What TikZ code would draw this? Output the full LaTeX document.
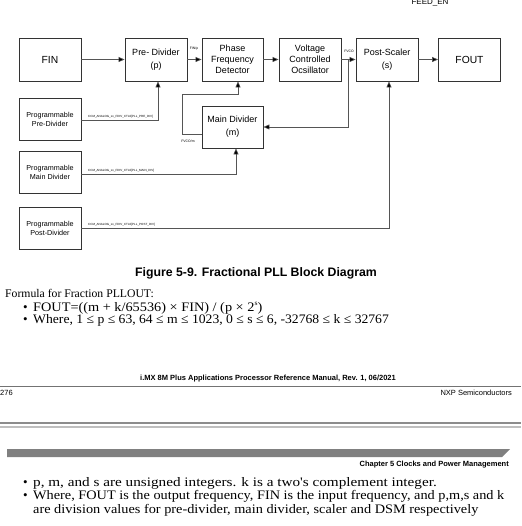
\documentclass[tikz,border=0pt]{standalone}
\usepackage{fontspec}
\usepackage{graphicx}
\setmainfont{Liberation Serif}
\setsansfont{Liberation Sans}
\usetikzlibrary{arrows.meta,calc}
\definecolor{boxline}{HTML}{333333}
\definecolor{wire}{HTML}{555555}
\begin{document}
\begin{tikzpicture}[x=1pt,y=-1pt,
  blk/.style={draw=boxline, line width=0.9pt, minimum width=62pt, minimum height=43pt, align=center, inner sep=1pt, font=\sffamily\fontsize{9}{11}\selectfont},
  bigblk/.style={blk, font=\sffamily\fontsize{10.3}{12}\selectfont},
  progblk/.style={blk, minimum height=42pt, font=\sffamily\fontsize{7.2}{9}\selectfont},
  wireline/.style={draw=wire, line width=0.6pt},
  arr/.style={wireline, -{Triangle[width=5pt,length=6pt,fill=black]}},
  reg/.style={inner sep=0pt, font=\sffamily\fontsize{3}{3.5}\selectfont},
  tiny/.style={inner sep=0pt, font=\sffamily\fontsize{3.4}{4}\selectfont},
  body/.style={inner sep=0pt, anchor=base west, font=\fontsize{13}{15}\selectfont},
  foot/.style={inner sep=0pt, font=\sffamily\fontsize{7.5}{9}\selectfont},
]
\useasboundingbox (0,0) rectangle (521,526);
\fill[white] (0,0) rectangle (521,526);

% top label
\node[foot, anchor=base, font=\sffamily\fontsize{8}{9}\selectfont] (feed) at (430,5) {FEED\_EN};

% blocks
\node[bigblk] (fin) at (50,59.5) {FIN};
\node[blk] (pre) at (156,59.5) {Pre- Divider\\[2pt](p)};
\node[blk, minimum width=61pt] (pfd) at (232.5,59.5) {Phase\\Frequency\\Detector};
\node[blk] (vco) at (310,59.5) {Voltage\\Controlled\\Ocsillator};
\node[blk] (post) at (387,59.5) {Post-Scaler\\[2pt](s)};
\node[bigblk] (fout) at (469.5,59.5) {FOUT};
\node[blk, minimum width=61pt, minimum height=42pt] (md) at (232.5,127) {Main Divider\\[2pt](m)};
\node[progblk] (ppre) at (50,119) {Programmable\\Pre-Divider};
\node[progblk] (pmain) at (50,172) {Programmable\\Main Divider};
\node[progblk] (ppost) at (50,228) {Programmable\\Post-Divider};

% main path
\draw[arr] (fin) -- (pre);
\draw[arr] (pre) -- (pfd);
\draw[arr] (pfd) -- (vco);
\draw[arr] (vco) -- (post);
\draw[arr] (post) -- (fout);

% feedback
\coordinate (fb) at (348,59.5);
\draw[arr] (fb) |- (md.east);
\coordinate (fbl) at (182,94);
\draw[arr] (md.west |- 0,134) -| (fbl) -| ([xshift=5.5pt]pfd.south);

% control lines
\draw[arr] (ppre.east |- 0,120) -| ([xshift=2pt]pre.south);
\draw[arr] (pmain.east |- 0,174) -| ([xshift=3.5pt]md.south);
\draw[arr] (ppost.east |- 0,228) -| ([xshift=2pt]post.south);

% small labels
\node[reg, anchor=south west] (lpre) at (88,118.5) {CCM\_ANALOG\_xx\_FDIV\_CTL0[PLL\_PRE\_DIV]};
\node[reg, anchor=south west] (lmain) at (88,172.5) {CCM\_ANALOG\_xx\_FDIV\_CTL0[PLL\_MAIN\_DIV]};
\node[reg, anchor=south west] (lpost) at (88,226.5) {CCM\_ANALOG\_xx\_FDIV\_CTL0[PLL\_POST\_DIV]};
\node[tiny] (lfinp) at (194,48.5) {FIN/p};
\node[tiny] (lfvco) at (349,51) {FVCO};
\node[tiny] (lfvcom) at (188,141) {FVCO/m};

% caption
\node[inner sep=0pt, font=\sffamily\bfseries\fontsize{12.3}{14}\selectfont] (cap) at (256,273) {Figure 5-9. Fractional PLL Block Diagram};

% body text
\node[body, font=\fontsize{11.7}{14}\selectfont] (formula) at (5,297) {Formula for Fraction PLLOUT:};
\node[body] (b1) at (23,311) {•};
\node[body] (t1) at (33,311) {\scalebox{1.1}[1]{FOUT=((m + k/65536) × FIN) / (p × 2\raisebox{0.4em}{\fontsize{7}{7}\selectfont s})}};
\node[body] (b2) at (23,323.5) {•};
\node[body] (t2) at (33,323.5) {\scalebox{1.05}[1]{Where, 1 ≤ p ≤ 63, 64 ≤ m ≤ 1023, 0 ≤ s ≤ 6, -32768 ≤ k ≤ 32767}};

% footer
\node[foot, font=\sffamily\bfseries\fontsize{7.5}{9}\selectfont] (manual) at (268,379) {i.MX 8M Plus Applications Processor Reference Manual, Rev. 1, 06/2021};
\draw[black!55, line width=0.8pt] (0,386) -- (521,386);
\node[foot, anchor=west] (pg) at (0,392.5) {276};
\node[foot, anchor=east] (nxp) at (512,392.5) {NXP Semiconductors};

% page separator
\fill[black!45] (0,421.5) rectangle (521,424);
\fill[black!25] (0,425.5) rectangle (521,428);

% chapter bar
\fill[black!50] (7,449) -- (510,449) -- (502,457) -- (7,457) -- cycle;
\node[foot, anchor=east, font=\sffamily\bfseries\fontsize{7.5}{9}\selectfont] (chap) at (509,465) {Chapter 5 Clocks and Power Management};

% second page bullets
\node[body] (b3) at (23,486) {•};
\node[body] (t3) at (33,486) {\scalebox{1.17}[1]{p, m, and s are unsigned integers. k is a two\textquotesingle s complement integer.}};
\node[body] (b4) at (23,499.5) {•};
\node[body] (t4) at (33,499.5) {\scalebox{1.1}[1]{Where, FOUT is the output frequency, FIN is the input frequency, and p,m,s and k}};
\node[body] (t5) at (33,513) {\scalebox{1.1}[1]{are division values for pre-divider, main divider, scaler and DSM respectively}};
\end{tikzpicture}
\end{document}
